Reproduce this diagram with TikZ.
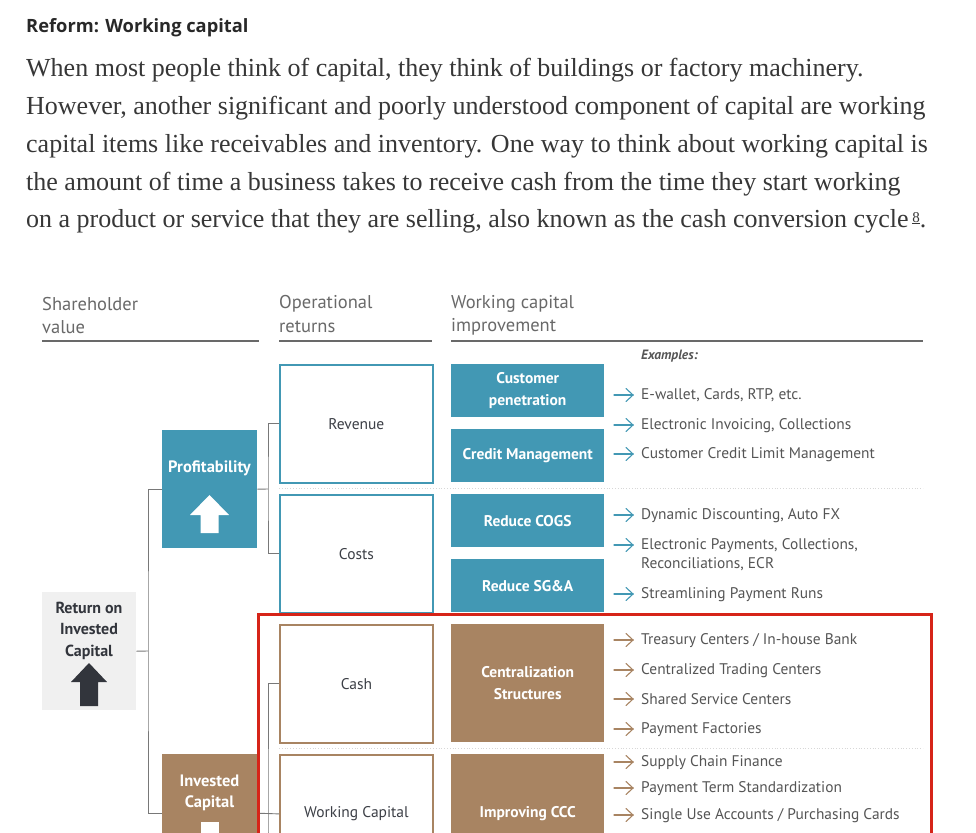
\documentclass[tikz,border=0pt]{standalone}
\usepackage{fontspec}
\setmainfont{Liberation Serif}
\newfontfamily\diafont{PT Sans}
\newfontfamily\titlefont{Open Sans}
\usetikzlibrary{calc}
\definecolor{jteal}{RGB}{66,152,180}
\definecolor{jbrown}{RGB}{168,132,98}
\definecolor{roicbg}{RGB}{240,240,240}
\definecolor{darkarr}{RGB}{50,53,60}
\definecolor{exgray}{RGB}{85,85,85}
\definecolor{boxtext}{RGB}{60,63,70}
\definecolor{hdrgray}{RGB}{105,105,105}
\definecolor{conngray}{RGB}{120,120,120}
\definecolor{jred}{RGB}{214,36,24}
\definecolor{partext}{RGB}{55,55,55}
\definecolor{titletext}{RGB}{40,40,40}
\definecolor{divgray}{RGB}{215,215,215}
\begin{document}
\begin{tikzpicture}[x=1pt,y=-1pt,
  paraline/.style={anchor=base west, inner sep=0, text=partext, font=\fontsize{26}{30}\selectfont},
  hdr/.style={anchor=west, inner sep=0, text=hdrgray, font=\diafont\fontsize{18.5}{22}\selectfont},
  hrule/.style={draw=hdrgray, line width=1.4pt},
  outlinebox/.style={draw=#1, line width=1.8pt, fill=white, minimum width=153pt, minimum height=118pt, anchor=north west, inner sep=0, text=boxtext, font=\diafont\fontsize{15.5}{18}\selectfont},
  fillbox/.style={fill=#1, draw=none, minimum width=153pt, anchor=north west, inner sep=0, text=white, align=center, font=\diafont\bfseries\fontsize{15.5}{21.5}\selectfont},
  sidebox/.style={fill=#1, draw=none, minimum width=95pt, minimum height=118pt, anchor=north west, inner sep=0},
  sidelabel/.style={inner sep=0, text=white, font=\diafont\bfseries\fontsize{16.5}{18}\selectfont},
  conn/.style={draw=conngray, line width=0.9pt},
  example/.style={anchor=west, inner sep=0, text=exgray, font=\diafont\fontsize{15.4}{18}\selectfont},
  exarr/.style={draw=#1, line width=1.1pt, line cap=round, line join=miter},
  divider/.style={draw=divgray, line width=0.8pt, dotted}
]
\useasboundingbox (0,0) rectangle (976,832);
\clip (0,0) rectangle (976,832);
\fill[white] (0,0) rectangle (976,832);

% ---- text above the diagram ----
\node[anchor=base west, inner sep=0, text=titletext, font=\titlefont\bfseries\fontsize{18.3}{22}\selectfont] (title) at (26,33) {Reform: Working capital};
\node[paraline] (p1) at (26,77) {When most people think of capital, they think of buildings or factory machinery.};
\node[paraline] (p2) at (26,114) {However, another significant and poorly understood component of capital are working};
\node[paraline] (p3) at (26,152) {capital items like receivables and inventory. One way to think about working capital is};
\node[paraline] (p4) at (26,190) {the amount of time a business takes to receive cash from the time they start working};
\node[paraline] (p5) at (26,227) {on a product or service that they are selling, also known as the cash conversion cycle\hspace{4pt}\raisebox{5pt}{\fontsize{15}{15}\selectfont\underline{8}}.};

% ---- column headers ----
\node[hdr] (h1a) at (42,304) {Shareholder};
\node[hdr] (h1b) at (42,327) {value};
\node[hdr] (h2a) at (279,304) {Operational};
\node[hdr] (h2b) at (279,327) {returns};
\node[hdr] (h3a) at (451,304) {Working capital};
\node[hdr] (h3b) at (451,327) {improvement};
\draw[hrule] (42,341) -- (259,341);
\draw[hrule] (279,341) -- (432,341);
\draw[hrule] (451,341) -- (923,341);
\node[anchor=west, inner sep=0, text=exgray, font=\diafont\bfseries\itshape\fontsize{13.5}{15}\selectfont] (exlab) at (641,356) {Examples:};

% ---- dividers ----
\draw[divider] (279,488) -- (923,488);
\draw[divider] (279,748) -- (923,748);

% ---- left column ----
\node[sidebox=roicbg, minimum width=94pt] (roic) at (42,592) {};
\node[inner sep=0, text=darkarr, align=center, font=\diafont\bfseries\fontsize{16}{21.5}\selectfont] (roict) at (89,630.5) {Return on\\Invested\\Capital};
\fill[darkarr] (71,682) -- (89,663) -- (107,682) -- (98,682) -- (98,706) -- (80,706) -- (80,682) -- cycle;

\node[sidebox=jteal] (prof) at (162,430) {};
\node[sidelabel] (proft) at (209.5,468) {Profitability};
\fill[white] (190,515) -- (209.5,495) -- (229,515) -- (218.5,515) -- (218.5,533) -- (200.5,533) -- (200.5,515) -- cycle;

\node[sidebox=jbrown] (inv) at (162,754) {};
\node[sidelabel, align=center, font=\diafont\bfseries\fontsize{16.5}{21}\selectfont] (invt) at (209.5,793) {Invested\\Capital};
\fill[white] (200.5,822) rectangle (218.5,850);

% ---- operational returns ----
\node[outlinebox=jteal] (rev) at (279,364) {Revenue};
\node[outlinebox=jteal] (cost) at (279,494) {Costs};
\node[outlinebox=jbrown] (cash) at (279,624) {Cash};
\node[outlinebox=jbrown] (wc) at (279,754) {Working Capital};

% ---- working capital improvement ----
\node[fillbox=jteal, minimum height=53pt] (cp) at (451,364) {Customer\\penetration};
\node[fillbox=jteal, minimum height=53pt] (cm) at (451,429) {Credit Management};
\node[fillbox=jteal, minimum height=53pt] (rc) at (451,494) {Reduce COGS};
\node[fillbox=jteal, minimum height=53pt] (rs) at (451,559) {Reduce SG\&A};
\node[fillbox=jbrown, minimum height=118pt] (cs) at (451,624) {Centralization\\Structures};
\node[fillbox=jbrown, minimum height=118pt] (ic) at (451,754) {Improving CCC};

% ---- connectors ----
\coordinate (j1) at (148,651);
\coordinate (j2) at (268,489);
\coordinate (j3) at (268,813);
\draw[conn] (roic.east) -- (j1);
\draw[conn] (prof.west) -| (j1) |- (inv.west);
\draw[conn] (prof.east) -- (j2);
\draw[conn] (rev.west) -| (j2) |- (cost.west);
\draw[conn] (inv.east) -- (wc.west);
\draw[conn] (cash.west) -| (j3) -- ++(0,40);

% ---- examples ----
\node[example] (e1) at (641,395.5) {E-wallet, Cards, RTP, etc.};
\node[example] (e2) at (641,425.5) {Electronic Invoicing, Collections};
\node[example] (e3) at (641,454.5) {Customer Credit Limit Management};
\node[example] (e4) at (641,515.5) {Dynamic Discounting, Auto FX};
\node[example] (e5) at (641,545.5) {Electronic Payments, Collections,};
\node[example] (e5b) at (641,564.5) {Reconciliations, ECR};
\node[example] (e6) at (641,594.5) {Streamlining Payment Runs};
\node[example] (f1) at (641,640.5) {Treasury Centers / In-house Bank};
\node[example] (f2) at (641,670.5) {Centralized Trading Centers};
\node[example] (f3) at (641,699.5) {Shared Service Centers};
\node[example] (f4) at (641,729.5) {Payment Factories};
\node[example] (f5) at (641,762.5) {Supply Chain Finance};
\node[example] (f6) at (641,788.5) {Payment Term Standardization};
\node[example] (f7) at (641,815.5) {Single Use Accounts / Purchasing Cards};
\foreach \e in {e1,e2,e3,e4,e5,e6}{
  \draw[exarr=jteal] ([xshift=-27pt,yshift=0.5pt]\e.west) -- ([xshift=-8pt,yshift=0.5pt]\e.west);
  \draw[exarr=jteal] ([xshift=-15pt,yshift=-6pt]\e.west) -- ([xshift=-8pt,yshift=0.5pt]\e.west) -- ([xshift=-15pt,yshift=7pt]\e.west);
}
\foreach \e in {f1,f2,f3,f4,f5,f6,f7}{
  \draw[exarr=jbrown] ([xshift=-27pt,yshift=0.5pt]\e.west) -- ([xshift=-8pt,yshift=0.5pt]\e.west);
  \draw[exarr=jbrown] ([xshift=-15pt,yshift=-6pt]\e.west) -- ([xshift=-8pt,yshift=0.5pt]\e.west) -- ([xshift=-15pt,yshift=7pt]\e.west);
}

% ---- highlight frame ----
\draw[jred, line width=3pt] (258,860) -- (258,614) -- (931,614) -- (931,860);
\end{tikzpicture}
\end{document}
